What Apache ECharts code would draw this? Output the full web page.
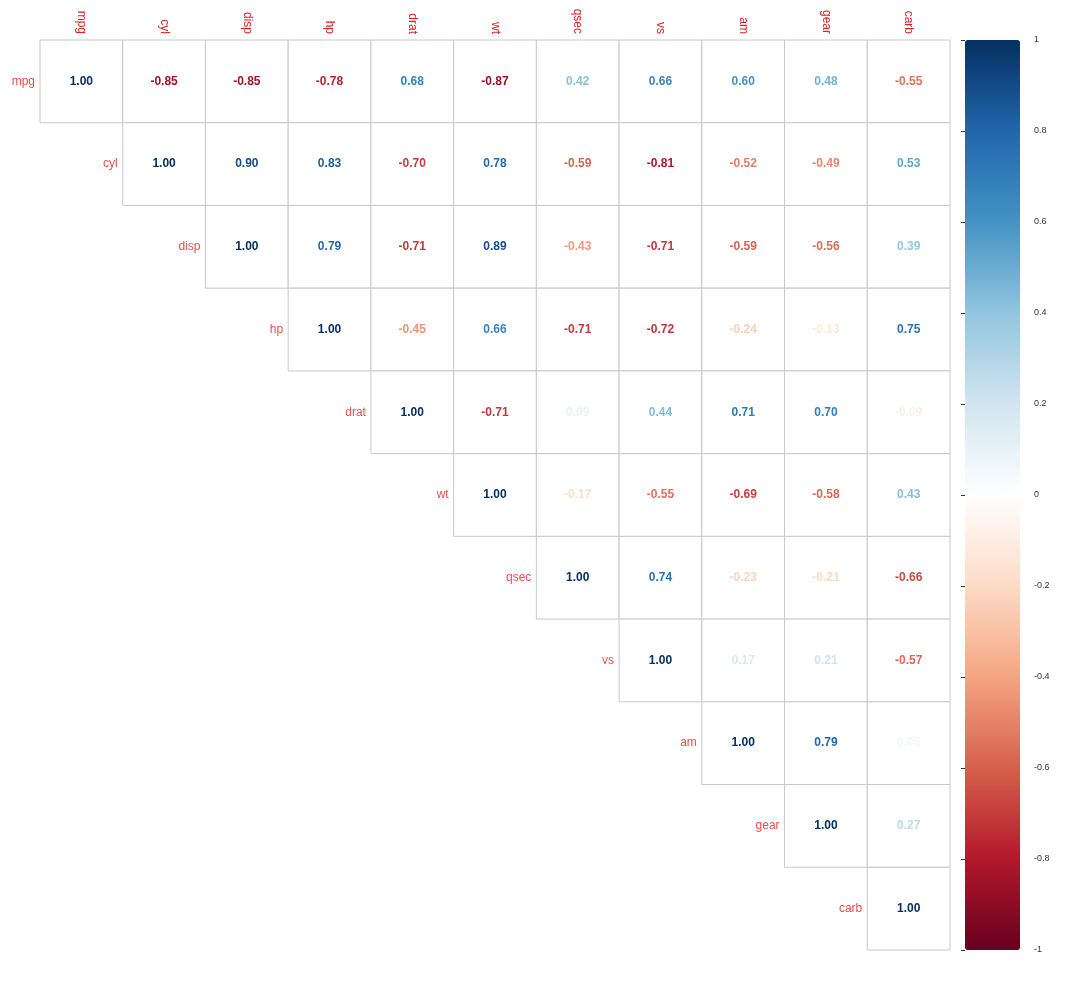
<!DOCTYPE html><html><head><meta charset="utf-8"><script src="https://cdn.jsdelivr.net/npm/echarts@6/dist/echarts.min.js"></script></head><body style="margin:0;background:#fff"><div id="c" style="width:1068px;height:990px"></div><script>
const vars=['mpg','cyl','disp','hp','drat','wt','qsec','vs','am','gear','carb'];
const upper=[
[1.00,-0.85,-0.85,-0.78,0.68,-0.87,0.42,0.66,0.60,0.48,-0.55],
[1.00,0.90,0.83,-0.70,0.78,-0.59,-0.81,-0.52,-0.49,0.53],
[1.00,0.79,-0.71,0.89,-0.43,-0.71,-0.59,-0.56,0.39],
[1.00,-0.45,0.66,-0.71,-0.72,-0.24,-0.13,0.75],
[1.00,-0.71,0.09,0.44,0.71,0.70,-0.09],
[1.00,-0.17,-0.55,-0.69,-0.58,0.43],
[1.00,0.74,-0.23,-0.21,-0.66],
[1.00,0.17,0.21,-0.57],
[1.00,0.79,0.06],
[1.00,0.27],
[1.00]];
const colorTicks=[-1,-0.8,-0.6,-0.4,-0.2,0,0.2,0.4,0.6,0.8,1];
const pal=['#67001F','#B2182B','#D6604D','#F4A582','#FDDBC7','#FFFFFF','#D1E5F0','#92C5DE','#4393C3','#2166AC','#053061'];
function hex(h){return [1,3,5].map(i=>parseInt(h.substr(i,2),16));}
function col(v){let t=(v+1)/2*10;let i=Math.min(9,Math.floor(t));let f=t-i;let a=hex(pal[i]),b=hex(pal[i+1]);
return 'rgb('+a.map((x,k)=>Math.round(x+(b[k]-x)*f)).join(',')+')';}
const cells=[];upper.forEach((row,i)=>row.forEach((v,k)=>cells.push([i+k,i,v])));
const rowLab=vars.map((n,i)=>({value:[i,i+0.5],name:n}));
const chart=echarts.init(document.getElementById('c'));
chart.setOption({animation:false,
grid:[{left:40,top:40,width:910,height:910},{left:965,top:40,width:55,height:910}],
xAxis:[{type:'value',min:0,max:11,show:false},
{type:'category',data:vars,position:'top',axisLine:{show:false},axisTick:{show:false},axisLabel:{rotate:90,color:'#e0201e',fontSize:12,margin:6,fontFamily:'Liberation Sans'}},
{type:'value',gridIndex:1,show:false,min:0,max:1}],
yAxis:[{type:'value',min:0,max:11,inverse:true,show:false},
{type:'value',gridIndex:1,min:-1,max:1,interval:0.2,position:'right',axisLine:{show:false},splitLine:{show:false},
axisTick:{show:true,inside:true,length:4,lineStyle:{color:'#333'}},axisLabel:{margin:14,fontSize:9,color:'#333',formatter:v=>colorTicks.find(t=>Math.abs(t-v)<1e-6)!==undefined?String(Math.round(v*10)/10):''}}],
visualMap:{type:'continuous',min:-1,max:1,seriesIndex:3,left:965,top:40,padding:0,itemWidth:55,itemHeight:910,text:null,showLabel:false,calculable:false,inRange:{color:pal}},
series:[
{type:'custom',data:cells,renderItem:(p,api)=>{const a=api.coord([api.value(0),api.value(1)]),b=api.coord([api.value(0)+1,api.value(1)+1]);const v=api.value(2);
return {type:'group',children:[{type:'rect',shape:{x:a[0],y:a[1],width:b[0]-a[0],height:b[1]-a[1]},style:{fill:'#fff',stroke:'#c8c8c8',lineWidth:1}},
{type:'text',style:{x:(a[0]+b[0])/2,y:(a[1]+b[1])/2,text:v.toFixed(2),fill:col(v),font:'bold 12px Liberation Sans',align:'center',verticalAlign:'middle'}}]};}},
{type:'scatter',data:rowLab,symbolSize:0,label:{show:true,position:'left',distance:5,formatter:p=>p.name,color:'#e0201e',fontSize:12,fontFamily:'Liberation Sans'}},
{type:'scatter',xAxisIndex:2,yAxisIndex:1,data:[],symbolSize:0},
{type:'scatter',xAxisIndex:2,yAxisIndex:1,data:[[0.5,0]],symbolSize:0}
]});
</script></body></html>
